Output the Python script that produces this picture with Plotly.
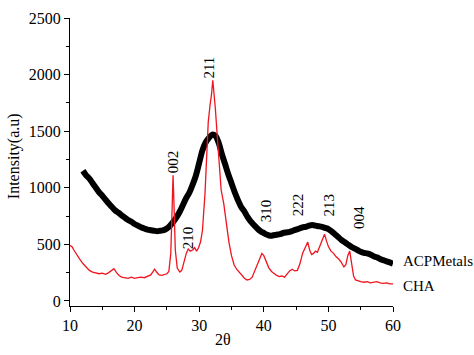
import plotly.graph_objects as go

# ---- data ----
cha_x = [10.0, 10.3, 10.6, 11.0, 11.5, 12.0, 12.5, 13.0, 13.5, 14.0, 14.5, 15.0, 15.5, 16.0, 16.5, 16.8,
         17.2, 17.6, 18.0, 18.5, 19.0, 19.5, 20.0, 20.5, 21.0, 21.5, 22.0, 22.5, 22.8, 23.1, 23.4, 23.8,
         24.2, 24.6, 25.0, 25.3, 25.6, 25.8, 25.95, 26.1, 26.3, 26.6, 27.0, 27.3, 27.6, 28.0, 28.3, 28.6,
         29.0, 29.3, 29.6, 29.9, 30.2, 30.5, 30.9, 31.2, 31.4, 31.7, 31.9, 32.1, 32.3, 32.5, 32.8, 33.0,
         33.4, 33.8, 34.2, 34.6, 35.0, 35.4, 35.8, 36.2, 36.6, 37.0, 37.4, 37.8, 38.2, 38.6, 39.0, 39.4,
         39.7, 40.0, 40.4, 40.8, 41.2, 41.6, 42.0, 42.4, 42.8, 43.2, 43.6, 44.0, 44.4, 44.8, 45.2, 45.6,
         46.0, 46.4, 46.8, 47.1, 47.4, 47.7, 48.0, 48.3, 48.6, 48.9, 49.2, 49.4, 49.7, 50.0, 50.4, 50.8,
         51.2, 51.6, 52.0, 52.4, 52.7, 53.0, 53.3, 53.6, 53.9, 54.2, 54.6, 55.0, 55.5, 56.0, 56.5, 57.0,
         57.5, 58.0, 58.5, 59.0, 59.5, 60.0]
cha_y = [490, 480, 450, 410, 370, 330, 295, 270, 255, 250, 240, 245, 235, 250, 275, 285,
         250, 225, 210, 205, 200, 210, 200, 205, 210, 205, 215, 230, 255, 280, 255, 230,
         225, 230, 240, 260, 420, 800, 1110, 850, 450, 290, 255, 270, 340, 420, 460, 440,
         450, 470, 440, 470, 520, 620, 950, 1300, 1580, 1740, 1820, 1950, 1850, 1700, 1450, 1280,
         980, 860, 680, 520, 400, 320, 280, 250, 220, 200, 185, 190, 210, 270, 330, 390,
         420, 400, 340, 290, 260, 240, 225, 215, 220, 210, 240, 265, 280, 265, 270, 330,
         420, 470, 520, 450, 410, 420, 440, 430, 470, 510, 560, 590, 530, 480, 440, 420,
         390, 370, 340, 300, 320, 400, 440, 330, 220, 185, 175, 170, 165, 170, 160, 165,
         170, 160, 155, 160, 150, 150]

acp_x = [12.0, 12.5, 13.0, 13.5, 14.0, 14.5, 15.0, 15.5, 16.0, 16.5, 17.0, 17.5, 18.0, 18.5, 19.0, 19.5,
         20.0, 20.5, 21.0, 21.5, 22.0, 22.5, 23.0, 23.5, 24.0, 24.5, 25.0, 25.5, 26.0, 26.5, 27.0, 27.5,
         28.0, 28.5, 29.0, 29.5, 30.0, 30.5, 31.0, 31.5, 32.0, 32.5, 33.0, 33.5, 34.0, 34.5, 35.0, 35.5,
         36.0, 36.5, 37.0, 37.5, 38.0, 38.5, 39.0, 39.5, 40.0, 40.5, 41.0, 41.5, 42.0, 42.5, 43.0, 43.5,
         44.0, 44.5, 45.0, 45.5, 46.0, 46.5, 47.0, 47.5, 48.0, 48.5, 49.0, 49.5, 50.0, 50.5, 51.0, 51.5,
         52.0, 52.5, 53.0, 53.5, 54.0, 54.5, 55.0, 55.5, 56.0, 56.5, 57.0, 57.5, 58.0, 58.5, 59.0, 59.5, 60.0]
acp_y = [1150, 1110, 1080, 1040, 1000, 960, 930, 895, 860, 830, 800, 780, 755, 735, 715, 700,
         680, 665, 650, 640, 630, 625, 620, 615, 620, 625, 640, 665, 700, 740, 790, 850,
         910, 960, 1030, 1110, 1220, 1330, 1400, 1440, 1470, 1460, 1400, 1300, 1210, 1120, 1040, 960,
         890, 830, 790, 740, 700, 670, 640, 615, 600, 585, 575, 580, 585, 590, 600, 605,
         610, 620, 630, 640, 650, 655, 665, 670, 665, 660, 655, 645, 635, 615, 590, 565,
         540, 520, 500, 480, 465, 450, 435, 425, 420, 410, 395, 385, 370, 360, 350, 340, 330]

peak_labels = ["002", "211", "210", "310", "222", "213", "004"]
peak_x = [25.97, 31.47, 28.22, 40.39, 45.35, 50.16, 54.65]
peak_y = [1226, 2059, 560, 796, 848, 848, 736]

series_labels = ["ACPMetals", "CHA"]

x_ticks = [10, 20, 30, 40, 50, 60]
y_ticks = [0, 500, 1000, 1500, 2000, 2500]

FONT = "Liberation Serif"

# plot-area geometry in pixels (used to place paper-referenced text)
L, R, T, B = 70, 393, 10, 306
PW, PH = R - L, B - T


def px_x(p):
    return (p - L) / PW


def px_y(p):
    return (B - p) / PH


fig = go.Figure()
fig.add_trace(go.Scatter(x=acp_x, y=acp_y, mode="lines", name=series_labels[0],
                         line=dict(color="black", width=6, shape="spline", smoothing=0.8),
                         showlegend=False))
fig.add_trace(go.Scatter(x=cha_x, y=cha_y, mode="lines", name=series_labels[1],
                         line=dict(color="rgb(240,20,30)", width=1.3), showlegend=False))

for t, x, y in zip(peak_labels, peak_x, peak_y):
    fig.add_annotation(x=x, y=y, text=t, textangle=-90, showarrow=False,
                       xanchor="center", yanchor="middle",
                       font=dict(family=FONT, size=15, color="black"))

for t, py in zip(series_labels, [260, 285]):
    fig.add_annotation(x=px_x(401), y=px_y(py), xref="paper", yref="paper", text=t,
                       showarrow=False, xanchor="left", yanchor="middle",
                       font=dict(family=FONT, size=15, color="black"))

# axis titles
fig.add_annotation(x=px_x(222.5), y=px_y(340), xref="paper", yref="paper",
                   text="2θ", showarrow=False, xanchor="center", yanchor="middle",
                   font=dict(family=FONT, size=16, color="black"))
fig.add_annotation(x=px_x(14), y=px_y(152), xref="paper", yref="paper",
                   text="Intensity(a.u)", textangle=-90, showarrow=False,
                   xanchor="center", yanchor="middle",
                   font=dict(family=FONT, size=16, color="black"))

axis_common = dict(showline=True, linecolor="black", linewidth=1, ticks="outside",
                   ticklen=5, tickwidth=1, tickcolor="black", showgrid=False, zeroline=False,
                   tickfont=dict(family=FONT, size=16, color="black"))
fig.update_xaxes(range=[10, 60], tickvals=x_ticks, ticktext=[str(v) for v in x_ticks],
                 minor=dict(ticks="outside", ticklen=3, tickcolor="black", dtick=5, tick0=0),
                 **axis_common)
fig.update_yaxes(range=[-45, 2500], tickvals=y_ticks, ticktext=[str(v) for v in y_ticks],
                 minor=dict(ticks="outside", ticklen=3, tickcolor="black", dtick=250, tick0=0),
                 **axis_common)

fig.update_layout(width=474, height=355, margin=dict(l=L, r=474 - R, t=T, b=355 - B),
                  plot_bgcolor="white", paper_bgcolor="white", showlegend=False,
                  font=dict(family=FONT, color="black"))

fig.write_html("out.html")
